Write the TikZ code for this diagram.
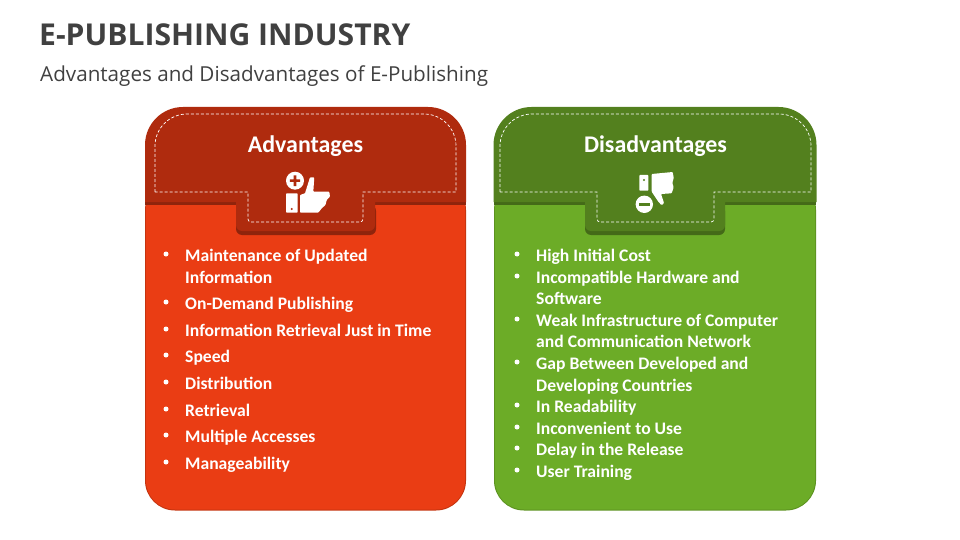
\documentclass[tikz,border=0pt]{standalone}
\usepackage{fontspec}
\setmainfont{Carlito}
\newfontfamily\titlefont{Open Sans}
\usepackage{tikz}
\definecolor{redbody}{HTML}{EA3D14}
\definecolor{redhead}{HTML}{AF2B0E}
\definecolor{redshade}{HTML}{8F240C}
\definecolor{redrim}{HTML}{C4340F}
\definecolor{greenbody}{HTML}{6CAC27}
\definecolor{greenhead}{HTML}{53801E}
\definecolor{greenshade}{HTML}{446A18}
\definecolor{greenrim}{HTML}{5C9220}
\definecolor{titlegray}{HTML}{404040}
\tikzset{
  bullet/.style={circle, inner sep=0pt, minimum size=5pt, fill=white},
  item/.style={anchor=base west, inner sep=0pt, text=white, font=\fontsize{17.6}{20}\selectfont\bfseries},
  heading/.style={anchor=base, inner sep=0pt, text=white, font=\fontsize{23.9}{26}\selectfont\bfseries},
  stitch/.style={draw=white, densely dashed, line width=0.7pt},
}
\begin{document}
\begin{tikzpicture}[x=1pt,y=-1pt]
  \useasboundingbox (0,0) rectangle (960,540);
  \node[anchor=base west, inner sep=0pt, text=titlegray, font=\titlefont\fontsize{30.1}{36}\selectfont\bfseries] (title) at (39,46) {E-PUBLISHING INDUSTRY};
  \node[anchor=base west, inner sep=0pt, text=titlegray, font=\titlefont\fontsize{20.65}{24}\selectfont] (subtitle) at (40,81.5) {Advantages and Disadvantages of E-Publishing};

  % left panel
  \fill[redrim, rounded corners=30pt] (145,180) -- (145,510.5) -- (466,510.5) -- (466,180) -- cycle;
  \fill[redbody, rounded corners=29pt] (146,180) -- (146,509.5) -- (465,509.5) -- (465,180) -- cycle;
  \fill[redshade, rounded corners=6pt] (236,205) -- (236,235) -- (376,235) -- (376,205) -- cycle;
  \fill[redshade] (145,200) rectangle (466,205);
  \fill[redhead] (145,202) [rounded corners=38pt] -- (145,107) -- (466,107) [sharp corners] -- (466,202) -- (375,202) [rounded corners=6pt] -- (375,231) -- (236,231) [sharp corners] -- (236,202) -- cycle;
  \draw[stitch] (155,192) [rounded corners=32pt] -- (155,114) -- (456,114) [sharp corners] -- (456,192) -- (363,192) [rounded corners=3pt] -- (363,222) -- (248,222) [sharp corners] -- (248,192) -- cycle;
  \node[heading] (advhead) at (305.5,153) {Advantages};
  % thumb up
  \fill[white] (295,180.7) circle (9);
  \fill[redhead] (293.7,175.5) rectangle (296.3,186) (289.8,179.4) rectangle (300.2,182);
  \fill[white, rounded corners=0.7pt] (286,193.3) rectangle (297.7,212.7);
  \fill[redhead] (291.7,209) circle (1.2);
  \fill[white, rounded corners=0.8pt] (300,212.7) -- (300,195) -- (305,193.3) -- (310,177.3) -- (314.3,177.3) -- (313.3,191.7) -- (329.3,191.7) -- (330,196.7) -- (326.7,200) -- (325.5,205) -- (321.7,208.3) -- (318.3,212.7) -- cycle;

  % right panel
  \fill[greenrim, rounded corners=30pt] (494,180) -- (494,510.5) -- (816,510.5) -- (816,180) -- cycle;
  \fill[greenbody, rounded corners=29pt] (495,180) -- (495,509.5) -- (815,509.5) -- (815,180) -- cycle;
  \fill[greenshade, rounded corners=6pt] (585,205) -- (585,235) -- (725,235) -- (725,205) -- cycle;
  \fill[greenshade] (494,200) rectangle (816,205);
  \fill[greenhead] (493.5,202) [rounded corners=38pt] -- (493.5,107) -- (816.5,107) [sharp corners] -- (816.5,202) -- (725,202) [rounded corners=6pt] -- (725,231) -- (585,231) [sharp corners] -- (585,202) -- cycle;
  \draw[stitch] (500,192) [rounded corners=32pt] -- (500,114) -- (811,114) [sharp corners] -- (811,192) -- (714,192) [rounded corners=3pt] -- (714,222) -- (597,222) [sharp corners] -- (597,192) -- cycle;
  \node[heading] (dishead) at (655.5,153) {Disadvantages};
  % thumb down
  \fill[white] (644.3,204.3) circle (8.7);
  \fill[greenhead] (639,203) rectangle (649.6,205.6);
  \fill[white, rounded corners=0.7pt] (639.3,175) rectangle (648.3,190.7);
  \fill[greenhead] (644,180) circle (1.2);
  \fill[white, rounded corners=0.8pt] (651.7,174) -- (672.7,172) -- (673.7,178) -- (672.3,183) -- (673.7,187.3) -- (671.7,193.3) -- (661,194) -- (664,203) -- (661.7,205.3) -- (658.3,201.7) -- (651.7,191.7) -- cycle;

  % lists
  \foreach \y/\txt in {261/Maintenance of Updated, 283/Information, 309/On-Demand Publishing, 336/Information Retrieval Just in Time, 362/Speed, 389/Distribution, 416/Retrieval, 442/Multiple Accesses, 469/Manageability}
    \node[item] (adv\y) at (185,\y) {\txt};
  \foreach \y in {254,302,329,355,382,409,435,462}
    \node[bullet] (advb\y) at (166,\y) {};
  \foreach \y/\txt in {261/High Initial Cost, 283/Incompatible Hardware and, 304/Software, 326/Weak Infrastructure of Computer, 347/and Communication Network, 369/Gap Between Developed and, 391/Developing Countries, 412/In Readability, 434/Inconvenient to Use, 455/Delay in the Release, 477/User Training}
    \node[item] (dis\y) at (536,\y) {\txt};
  \foreach \y in {254,276,319,362,405,427,448,470}
    \node[bullet] (disb\y) at (517,\y) {};
\end{tikzpicture}
\end{document}
